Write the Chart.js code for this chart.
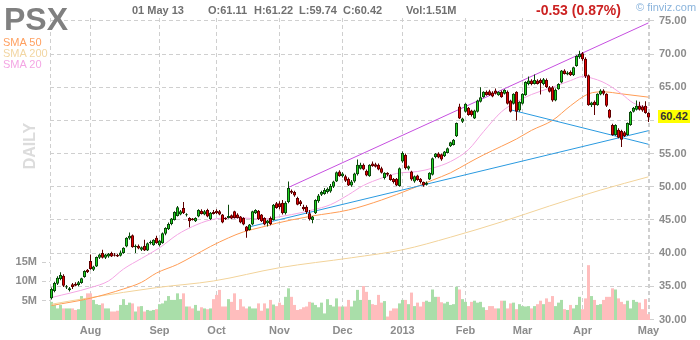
<!DOCTYPE html>
<html>
<head>
<meta charset="utf-8">
<title>PSX daily</title>
<script src="https://cdn.jsdelivr.net/npm/chart.js@4.4.1/dist/chart.umd.min.js"></script>
<style>
  body { margin: 0; background: #fff; }
  #wrap { position: relative; width: 700px; height: 340px; overflow: hidden; font-family: "Liberation Sans", Arial, sans-serif; }
  #psxChart { position: absolute; left: 0; top: 0; }
  .t { position: absolute; white-space: nowrap; line-height: 1; }
  .head { font-size: 11px; font-weight: bold; color: #707070; top: 5px; }
  .sma { font-size: 11px; left: 3px; }
</style>
</head>
<body>
<div id="wrap">
  <canvas id="psxChart" width="700" height="340"></canvas>
  <div class="t" style="left:4px;top:3px;font-size:32px;font-weight:bold;color:#808080;">PSX</div>
  <div class="t head" style="left:132px;">01 May 13</div>
  <div class="t head" style="left:208px;">O:61.11</div>
  <div class="t head" style="left:254px;">H:61.22</div>
  <div class="t head" style="left:299px;">L:59.74</div>
  <div class="t head" style="left:343px;">C:60.42</div>
  <div class="t head" style="left:406px;">Vol:1.51M</div>
  <div class="t" style="left:536px;top:3px;font-size:14px;font-weight:bold;color:#cc2222;">-0.53 (0.87%)</div>
  <div class="t" style="left:636px;top:2px;font-size:11px;color:#8ab4dc;">© finviz.com</div>
  <div class="t sma" style="top:37px;color:#ffa060;">SMA 50</div>
  <div class="t sma" style="top:48px;color:#f2d6a2;">SMA 200</div>
  <div class="t sma" style="top:59px;color:#f4a6e4;">SMA 20</div>
  <div class="t" style="left:30px;top:146px;font-size:16px;font-weight:bold;color:#dcdcdc;transform:translate(-50%,-50%) rotate(-90deg);">DAILY</div>
  <div class="t" style="left:658px;top:110px;width:32px;height:13px;line-height:13px;text-align:center;background:#ffff00;font-size:11px;font-weight:bold;color:#333;">60.42</div>
</div>
<script>
// trading days shown on the chart
const dates = [
  "2012-07-13","2012-07-16","2012-07-17","2012-07-18","2012-07-19","2012-07-20","2012-07-23","2012-07-24","2012-07-25","2012-07-26","2012-07-27","2012-07-30","2012-07-31",
  "2012-08-01","2012-08-02","2012-08-03","2012-08-06","2012-08-07","2012-08-08","2012-08-09","2012-08-10","2012-08-13","2012-08-14","2012-08-15","2012-08-16","2012-08-17","2012-08-20","2012-08-21","2012-08-22","2012-08-23","2012-08-24","2012-08-27","2012-08-28","2012-08-29","2012-08-30","2012-08-31",
  "2012-09-04","2012-09-05","2012-09-06","2012-09-07","2012-09-10","2012-09-11","2012-09-12","2012-09-13","2012-09-14","2012-09-17","2012-09-18","2012-09-19","2012-09-20","2012-09-21","2012-09-24","2012-09-25","2012-09-26","2012-09-27","2012-09-28",
  "2012-10-01","2012-10-02","2012-10-03","2012-10-04","2012-10-05","2012-10-08","2012-10-09","2012-10-10","2012-10-11","2012-10-12","2012-10-15","2012-10-16","2012-10-17","2012-10-18","2012-10-19","2012-10-22","2012-10-23","2012-10-24","2012-10-25","2012-10-26","2012-10-31",
  "2012-11-01","2012-11-02","2012-11-05","2012-11-06","2012-11-07","2012-11-08","2012-11-09","2012-11-12","2012-11-13","2012-11-14","2012-11-15","2012-11-16","2012-11-19","2012-11-20","2012-11-21","2012-11-23","2012-11-26","2012-11-27","2012-11-28","2012-11-29","2012-11-30",
  "2012-12-03","2012-12-04","2012-12-05","2012-12-06","2012-12-07","2012-12-10","2012-12-11","2012-12-12","2012-12-13","2012-12-14","2012-12-17","2012-12-18","2012-12-19","2012-12-20","2012-12-21","2012-12-24","2012-12-26","2012-12-27","2012-12-28","2012-12-31",
  "2013-01-02","2013-01-03","2013-01-04","2013-01-07","2013-01-08","2013-01-09","2013-01-10","2013-01-11","2013-01-14","2013-01-15","2013-01-16","2013-01-17","2013-01-18","2013-01-22","2013-01-23","2013-01-24","2013-01-25","2013-01-28","2013-01-29","2013-01-30","2013-01-31",
  "2013-02-01","2013-02-04","2013-02-05","2013-02-06","2013-02-07","2013-02-08","2013-02-11","2013-02-12","2013-02-13","2013-02-14","2013-02-15","2013-02-19","2013-02-20","2013-02-21","2013-02-22","2013-02-25","2013-02-26","2013-02-27","2013-02-28",
  "2013-03-01","2013-03-04","2013-03-05","2013-03-06","2013-03-07","2013-03-08","2013-03-11","2013-03-12","2013-03-13","2013-03-14","2013-03-15","2013-03-18","2013-03-19","2013-03-20","2013-03-21","2013-03-22","2013-03-25","2013-03-26","2013-03-27","2013-03-28",
  "2013-04-01","2013-04-02","2013-04-03","2013-04-04","2013-04-05","2013-04-08","2013-04-09","2013-04-10","2013-04-11","2013-04-12","2013-04-15","2013-04-16","2013-04-17","2013-04-18","2013-04-19","2013-04-22","2013-04-23","2013-04-24","2013-04-25","2013-04-26","2013-04-29","2013-04-30",
  "2013-05-01"
];

const opens = [
  33.2,34.3,35.4,36.1,36.6,34.8,34.4,35.3,35.4,35.2,35.5,36.4,37.5,
  38.8,37.5,38.0,39.3,40.0,39.3,39.5,40.0,39.8,39.7,39.6,40.0,41.0,42.2,42.7,40.9,41.1,40.5,41.1,40.4,41.5,41.2,42.3,
  41.2,41.5,42.9,43.6,44.4,45.0,45.6,45.8,46.8,45.7,45.3,45.2,44.8,45.5,46.4,45.8,46.5,45.1,46.2,
  46.4,46.3,45.8,45.3,45.3,45.7,46.3,45.8,45.5,45.3,44.0,43.5,44.3,46.0,46.4,45.8,45.3,44.5,45.3,45.0,47.5,
  47.5,47.6,46.0,47.7,49.4,49.2,48.3,47.8,47.0,47.0,46.0,45.0,46.0,47.8,48.8,48.9,49.2,49.3,50.0,50.8,52.3,
  51.6,51.6,51.2,50.2,50.8,51.9,52.7,53.3,52.4,51.6,53.5,53.4,53.3,52.8,51.3,52.1,51.8,51.2,51.2,50.1,
  53.8,54.8,52.7,52.3,50.8,51.7,51.2,50.7,50.3,51.1,51.8,54.5,55.0,54.9,54.6,55.1,56.1,56.3,57.6,62.1,59.8,
  61.3,61.9,61.5,60.3,61.3,62.8,63.5,64.3,64.4,64.2,64.5,63.8,64.3,64.0,64.3,63.0,62.5,64.3,61.5,
  62.5,63.8,65.5,66.0,65.5,66.0,66.1,65.5,66.1,65.0,65.0,63.0,64.7,65.7,67.5,66.9,67.3,66.8,68.2,69.5,
  70.1,69.3,66.8,62.3,62.8,62.3,63.9,64.5,64.0,61.6,59.3,57.8,58.6,58.4,58.2,57.8,59.3,61.3,61.6,62.2,62.1,62.2,
  61.11
];
const highs = [
  34.8,35.7,36.5,37.1,36.8,35.2,34.9,35.5,35.6,35.8,36.3,37.4,37.6,
  39.8,38.1,39.5,39.9,40.5,39.9,40.0,40.2,40.0,39.9,40.4,40.9,42.4,43.1,42.8,41.3,41.3,41.0,42.0,41.6,41.9,42.1,42.6,
  42.0,43.1,43.9,44.6,45.3,46.3,47.1,46.5,47.7,46.0,45.4,45.3,45.4,46.6,46.6,46.5,46.7,46.2,46.5,
  46.6,46.5,45.9,45.4,47.3,45.8,46.4,46.0,45.6,45.4,44.1,44.4,46.4,46.6,46.5,45.9,45.4,45.0,45.5,47.4,47.7,
  47.8,48.0,47.8,50.8,49.6,49.4,48.5,48.0,47.3,47.2,46.5,45.6,48.1,48.9,49.4,49.8,49.9,50.4,50.9,52.3,52.5,
  52.2,51.8,51.4,51.0,52.1,54.1,53.6,53.5,52.6,53.4,53.8,53.6,53.5,53.0,52.2,52.2,51.9,51.3,51.3,52.9,
  55.3,55.0,53.2,52.4,51.7,51.8,51.3,50.8,50.8,52.2,54.4,55.1,55.2,55.0,55.4,55.9,56.8,57.2,59.7,62.5,60.4,
  62.6,62.0,61.6,61.6,63.1,65.0,64.4,64.5,64.6,64.4,64.8,64.4,64.5,64.7,64.5,63.1,64.1,64.4,62.9,
  64.1,65.9,66.6,66.2,66.9,66.2,66.3,66.4,66.3,65.2,65.2,64.8,65.6,67.6,67.7,67.4,67.5,68.1,69.8,70.5,
  70.3,69.5,66.9,62.8,63.0,64.1,64.7,64.7,64.1,61.7,59.5,59.4,58.8,58.6,58.4,59.7,61.4,62.0,63.0,62.8,62.3,62.9,
  61.22
];
const lows = [
  33.0,34.1,35.2,35.9,34.9,34.6,34.2,34.6,35.0,35.0,35.4,36.3,37.0,
  37.5,37.3,37.9,39.1,39.2,39.1,39.3,39.4,39.5,39.4,39.5,39.9,40.9,42.0,40.8,40.0,40.6,40.3,40.3,40.3,41.3,41.1,41.4,
  41.0,41.4,42.7,43.5,44.2,44.9,45.5,45.7,45.9,45.5,43.9,44.9,44.7,45.4,45.8,45.7,45.4,45.0,45.8,
  45.9,45.7,44.5,45.0,45.2,45.1,45.2,45.2,44.5,44.2,42.3,43.4,44.2,45.9,45.0,44.7,44.2,44.0,44.2,44.9,46.7,
  46.6,45.8,45.8,47.5,48.9,48.5,47.2,47.1,46.4,45.9,44.9,44.5,45.9,47.6,48.6,48.8,49.0,49.1,49.8,50.7,51.5,
  51.4,50.7,50.1,50.0,50.6,51.7,52.6,52.5,51.6,51.5,53.0,52.9,52.5,52.0,51.1,51.6,50.9,50.5,50.1,50.0,
  53.6,52.6,52.5,50.9,50.6,50.9,50.5,50.0,50.2,51.0,51.7,54.3,54.3,53.9,54.5,55.0,56.0,56.2,57.5,60.2,59.6,
  61.2,60.7,60.6,60.2,61.2,62.7,63.4,63.7,63.7,63.5,63.9,63.7,63.4,63.9,62.4,61.2,62.4,60.0,61.3,
  62.4,63.7,65.3,65.3,65.4,65.4,63.9,65.3,64.9,64.2,62.8,62.9,64.6,65.6,66.9,66.8,66.7,66.7,68.1,69.3,
  69.0,66.4,62.2,62.0,60.8,62.2,63.8,63.8,62.0,60.3,57.7,57.7,57.3,56.0,57.5,57.7,59.2,61.2,61.5,61.5,61.3,61.0,
  59.74
];
const closes = [
  34.6,35.5,36.3,36.7,35.1,35.0,34.7,34.9,35.1,35.6,36.2,37.3,37.1,
  37.6,38.0,39.4,39.8,39.3,39.8,39.9,39.5,39.6,39.5,40.1,40.8,42.3,42.6,40.9,41.1,40.7,40.9,40.4,41.5,41.7,42.0,41.5,
  41.9,43.0,43.8,44.4,45.2,46.2,46.9,46.3,46.0,45.8,44.8,45.0,45.3,46.5,45.9,46.3,45.5,46.1,45.9,
  46.0,45.8,44.6,45.1,45.6,45.2,45.3,45.3,44.6,44.3,43.3,44.3,46.3,46.5,45.1,44.8,44.3,44.9,44.4,47.3,46.8,
  46.9,46.0,47.6,49.8,49.1,48.7,47.3,47.4,46.6,46.2,45.1,45.5,48.0,48.7,49.2,49.5,49.7,50.1,50.8,52.2,51.6,
  52.0,50.9,50.2,50.8,52.0,53.3,53.3,52.6,51.7,53.3,53.1,53.0,52.6,52.1,52.1,51.8,51.0,50.7,50.2,52.8,
  55.1,52.8,53.1,51.1,51.6,51.0,50.7,50.2,50.6,52.1,54.3,55.0,54.4,54.1,55.3,55.8,56.7,57.1,59.6,60.3,60.3,
  62.5,60.8,60.8,61.5,63.0,63.5,64.3,63.8,63.8,63.6,64.0,64.3,63.5,64.6,62.5,61.3,64.0,61.3,62.8,
  64.0,65.8,66.0,65.5,66.1,65.5,65.6,66.2,65.0,64.3,63.0,64.6,65.5,67.5,67.0,67.2,66.8,68.0,69.7,70.0,
  69.2,66.6,62.3,62.7,62.3,64.0,64.5,64.0,62.2,60.4,57.8,59.3,57.4,57.1,57.6,59.6,61.3,61.9,62.2,61.6,61.5,61.1,
  60.42
];
// volume in millions of shares
const volumes = [
  4.7,3.9,3.0,3.9,3.0,3.0,3.0,3.0,2.6,2.8,6.2,5.2,6.9,
  6.9,5.2,4.1,3.9,4.3,3.0,3.0,2.2,2.2,2.4,3.9,5.4,3.9,4.5,4.3,2.2,3.5,3.6,2.2,2.6,2.4,2.6,2.8,
  4.1,4.3,5.0,6.2,5.2,5.2,6.9,5.4,6.9,3.5,3.5,3.0,3.9,2.4,3.3,3.0,2.8,3.0,5.4,
  6.5,7.8,3.5,3.5,5.4,4.7,6.9,2.6,5.4,3.5,3.0,3.5,3.0,3.0,4.3,2.4,4.3,3.0,5.2,4.0,3.6,
  4.5,3.9,6.0,8.2,6.0,3.9,2.6,2.8,3.3,3.5,4.7,4.5,3.9,3.3,4.5,1.7,5.4,3.9,3.5,5.6,3.5,
  3.5,3.5,5.2,3.5,5.0,7.8,5.2,8.8,7.3,5.2,4.1,3.9,6.5,4.5,4.9,0.9,2.4,3.0,3.0,4.3,
  5.2,5.2,4.1,7.1,3.6,4.5,3.5,4.7,5.0,4.7,7.9,6.0,6.0,4.6,4.3,4.7,3.9,4.1,8.6,7.9,5.4,
  4.7,3.6,4.7,5.0,4.5,4.7,3.3,2.6,3.6,3.6,3.0,3.0,5.0,5.0,3.0,4.3,4.5,2.8,4.1,
  3.6,3.5,3.6,3.0,3.6,4.1,5.0,4.1,5.6,4.7,6.2,3.6,4.5,5.2,2.8,2.6,3.9,3.0,3.9,6.0,
  2.8,5.6,14.2,6.2,5.2,3.9,4.1,5.2,6.0,6.0,8.2,7.9,5.6,4.7,4.1,5.0,3.0,5.2,4.7,4.5,2.8,5.4,
  1.51
];

// moving averages (day index -> value)
const sma20At = [0, 13, 19, 24, 30, 36, 42, 47, 53, 59, 64, 70, 75, 80, 87, 93, 99, 104, 110, 115, 122, 127, 133, 139, 144, 150, 155, 160, 167, 173, 177, 182, 185, 190, 194, 199];
const sma20 = [33.3, 34.8, 35.8, 37.6, 39.2, 40.8, 42.8, 44.0, 45.0, 45.3, 45.3, 45.1, 45.4, 45.8, 46.5, 47.3, 48.8, 50.2, 51.3, 52.0, 52.3, 52.8, 53.8, 55.6, 58.3, 61.3, 62.8, 63.9, 65.0, 66.0, 66.6, 66.1, 65.5, 64.0, 62.6, 61.9];
const sma50At = [0, 13, 24, 30, 35, 42, 47, 53, 59, 64, 70, 75, 80, 87, 99, 110, 120, 127, 133, 139, 144, 150, 155, 160, 167, 173, 179, 184, 190, 199];
const sma50 = [32.1, 33.2, 34.6, 35.6, 37.0, 38.3, 39.5, 41.0, 42.3, 43.2, 43.9, 44.5, 45.0, 45.6, 46.5, 48.0, 49.7, 51.0, 52.1, 53.6, 54.8, 56.1, 57.2, 58.5, 60.0, 62.2, 64.0, 64.3, 64.0, 63.5];
const sma200At = [0, 13, 35, 54, 76, 100, 117, 133, 150, 166, 183, 199];
const sma200 = [32.3, 33.3, 34.8, 35.8, 37.8, 39.3, 40.5, 42.4, 44.7, 47.1, 49.5, 51.5];

// trend lines (day index -> price)
const channelAt = [79, 199];
const channel = [49.9, 74.7];
const supportAt = [65, 199];
const support = [43.85, 58.45];
const downAt = [153, 199];
const down = [61.6, 56.4];

const monthDays = ["2012-08-01","2012-09-04","2012-10-01","2012-11-01","2012-12-03","2013-01-02","2013-02-01","2013-03-01","2013-04-01","2013-05-01"];
const monthLabels = ["Aug","Sep","Oct","Nov","Dec","2013","Feb","Mar","Apr","May"];
const priceTicks = [30, 35, 40, 45, 50, 55, 60, 65, 70, 75];
const volumeTicks = [5, 10, 15];

const GRID = "#cfcfcf";
const TICK_FONT = { family: "'Liberation Sans', Arial, sans-serif", size: 11, weight: "bold" };

function pts(at, vals) {
  return at.map((d, k) => ({ x: dates[d], y: vals[k] }));
}

const isUp = closes.map((c, i) => c >= opens[i]);
const bodyFill = isUp.map((u) => (u ? "#1fd41f" : "#e60000"));
const lineCol = isUp.map((u) => (u ? "#0a480a" : "#5e0000"));
const volFill = isUp.map((u) => (u ? "#a9dea9" : "#ffbdbd"));

function smaLine(data, color) {
  return {
    type: "line",
    data: data,
    yAxisID: "y",
    borderColor: color,
    borderWidth: 1,
    pointRadius: 0,
    cubicInterpolationMode: "monotone",
    order: 5,
  };
}
function trendLine(data, color) {
  return {
    type: "line",
    data: data,
    yAxisID: "y",
    borderColor: color,
    borderWidth: 1,
    pointRadius: 0,
    order: 3,
  };
}

// dashed left / right edges of the plot
const frameLines = {
  id: "frameLines",
  beforeDatasetsDraw(chart) {
    const { ctx, chartArea: a } = chart;
    ctx.save();
    ctx.strokeStyle = GRID;
    ctx.lineWidth = 1;
    ctx.setLineDash([4, 3]);
    ctx.beginPath();
    ctx.moveTo(a.left + 0.5, a.top);
    ctx.lineTo(a.left + 0.5, a.bottom);
    ctx.moveTo(a.right - 0.5, a.top);
    ctx.lineTo(a.right - 0.5, a.bottom);
    ctx.stroke();
    ctx.restore();
  },
};

const ctx = document.getElementById("psxChart").getContext("2d");
new Chart(ctx, {
  type: "bar",
  data: {
    labels: dates,
    datasets: [
      {
        label: "body",
        data: dates.map((d, i) => [opens[i], closes[i]]),
        yAxisID: "y",
        backgroundColor: bodyFill,
        borderColor: lineCol,
        borderWidth: 1,
        borderSkipped: false,
        barThickness: 3,
        minBarLength: 1,
        inflateAmount: 0,
        grouped: false,
        order: 1,
      },
      {
        label: "wick",
        data: dates.map((d, i) => [lows[i], highs[i]]),
        yAxisID: "y",
        backgroundColor: lineCol,
        borderWidth: 0,
        barThickness: 1,
        inflateAmount: 0,
        grouped: false,
        order: 2,
      },
      trendLine(pts(channelAt, channel), "#c64fe0"),
      trendLine(pts(supportAt, support), "#2a9ae0"),
      trendLine(pts(downAt, down), "#2a9ae0"),
      smaLine(pts(sma20At, sma20), "#f4a6e4"),
      smaLine(pts(sma50At, sma50), "#ff9c55"),
      smaLine(pts(sma200At, sma200), "#f2d39a"),
      {
        label: "volume",
        data: volumes,
        yAxisID: "vol",
        backgroundColor: volFill,
        borderWidth: 0,
        barThickness: 3,
        inflateAmount: 0,
        grouped: false,
        order: 10,
      },
    ],
  },
  options: {
    responsive: false,
    animation: false,
    devicePixelRatio: 1,
    layout: { padding: { top: 18, left: 0, right: 0, bottom: 0 } },
    plugins: {
      legend: { display: false },
      tooltip: { enabled: false },
    },
    scales: {
      x: {
        type: "category",
        offset: true,
        afterBuildTicks: (scale) => {
          scale.ticks = monthDays.map((d) => ({ value: dates.indexOf(d) }));
        },
        afterFit: (scale) => {
          scale.height = 20;
        },
        grid: { color: GRID, offset: false, drawTicks: false },
        border: { display: false, dash: [4, 3] },
        ticks: {
          autoSkip: false,
          maxRotation: 0,
          padding: 4,
          color: "#8c8c8c",
          font: TICK_FONT,
          callback: (value) => monthLabels[monthDays.indexOf(dates[value])],
        },
      },
      y: {
        position: "right",
        min: 29.92,
        max: 75.43,
        afterBuildTicks: (scale) => {
          scale.ticks = priceTicks.map((v) => ({ value: v }));
        },
        afterFit: (scale) => {
          scale.width = 50;
        },
        grid: { color: GRID, tickLength: 6, tickBorderDash: [4, 3] },
        border: { display: false, dash: [4, 3] },
        ticks: {
          padding: 3,
          color: "#8c8c8c",
          font: TICK_FONT,
          callback: (v) => v.toFixed(2),
        },
      },
      vol: {
        position: "left",
        min: 0,
        max: 78.2,
        afterBuildTicks: (scale) => {
          scale.ticks = volumeTicks.map((v) => ({ value: v }));
        },
        afterFit: (scale) => {
          scale.width = 50;
        },
        grid: { color: GRID, drawOnChartArea: false, tickLength: 8, tickBorderDash: [4, 3] },
        border: { display: false, dash: [4, 3] },
        ticks: {
          padding: 5,
          color: "#8c8c8c",
          font: TICK_FONT,
          callback: (v) => v + "M",
        },
      },
    },
  },
  plugins: [frameLines],
});
</script>
</body>
</html>
